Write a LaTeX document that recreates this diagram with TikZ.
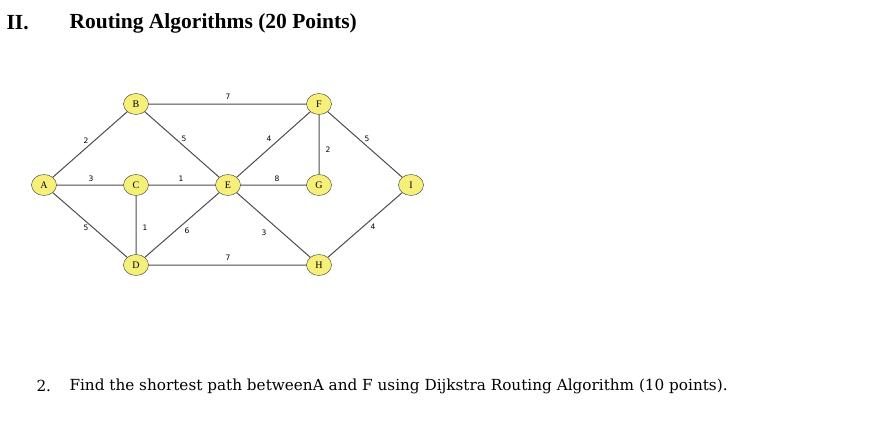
\documentclass[tikz,border=0pt]{standalone}
\usepackage{fontspec}
\setmainfont{Liberation Serif}
\newfontfamily\lblfont{DejaVu Sans}
\newfontfamily\qfont{DejaVu Serif}
\usetikzlibrary{shapes.geometric}
\definecolor{nodey}{HTML}{F6F07A}
\begin{document}
\begin{tikzpicture}[x=1pt,y=-1pt,
  vtx/.style={ellipse,draw=black!80,fill=nodey,minimum width=25pt,minimum height=21pt,inner sep=0pt,font=\fontsize{10}{10}\selectfont},
  edge/.style={draw=black!70,line width=1pt},
  wt/.style={font=\lblfont\fontsize{7.5}{7.5}\selectfont,inner sep=0pt}]
\useasboundingbox (0,0) rectangle (878,428);
\node[font=\bfseries\fontsize{21.5}{21.5}\selectfont,anchor=west] (t1) at (3,23) {II.};
\node[font=\bfseries\fontsize{21.5}{21.5}\selectfont,anchor=west] (t2) at (66,23) {Routing Algorithms (20 Points)};
\node[vtx] (A) at (44,185) {A};
\node[vtx] (B) at (136,104) {B};
\node[vtx] (C) at (136,185) {C};
\node[vtx] (D) at (136,265) {D};
\node[vtx] (E) at (228,185) {E};
\node[vtx] (F) at (319,104) {F};
\node[vtx] (G) at (319,185) {G};
\node[vtx] (H) at (319,265) {H};
\node[vtx] (I) at (411,185) {I};
\draw[edge] (A)--(B) (A)--(C) (A)--(D) (B)--(F) (B)--(E) (C)--(E) (C)--(D) (D)--(E) (D)--(H) (E)--(F) (E)--(G) (E)--(H) (F)--(G) (F)--(I) (H)--(I);
\node[wt] (w1) at (86,141) {2};
\node[wt] (w2) at (91,179) {3};
\node[wt] (w3) at (86,228) {5};
\node[wt] (w4) at (228,97) {7};
\node[wt] (w5) at (184,139) {5};
\node[wt] (w6) at (181,179) {1};
\node[wt] (w7) at (145,228) {1};
\node[wt] (w8) at (187,231) {6};
\node[wt] (w9) at (228,258) {7};
\node[wt] (w10) at (269,139) {4};
\node[wt] (w11) at (277,179) {8};
\node[wt] (w12) at (264,233) {3};
\node[wt] (w13) at (328,150) {2};
\node[wt] (w14) at (367,139) {5};
\node[wt] (w15) at (373,227) {4};
\node[font=\qfont\fontsize{15.25}{15.25}\selectfont,anchor=west] (q1) at (33,386) {2.};
\node[font=\qfont\fontsize{15.25}{15.25}\selectfont,anchor=west] (q2) at (66,386) {Find the shortest path betweenA and F using Dijkstra Routing Algorithm (10 points).};
\end{tikzpicture}
\end{document}
